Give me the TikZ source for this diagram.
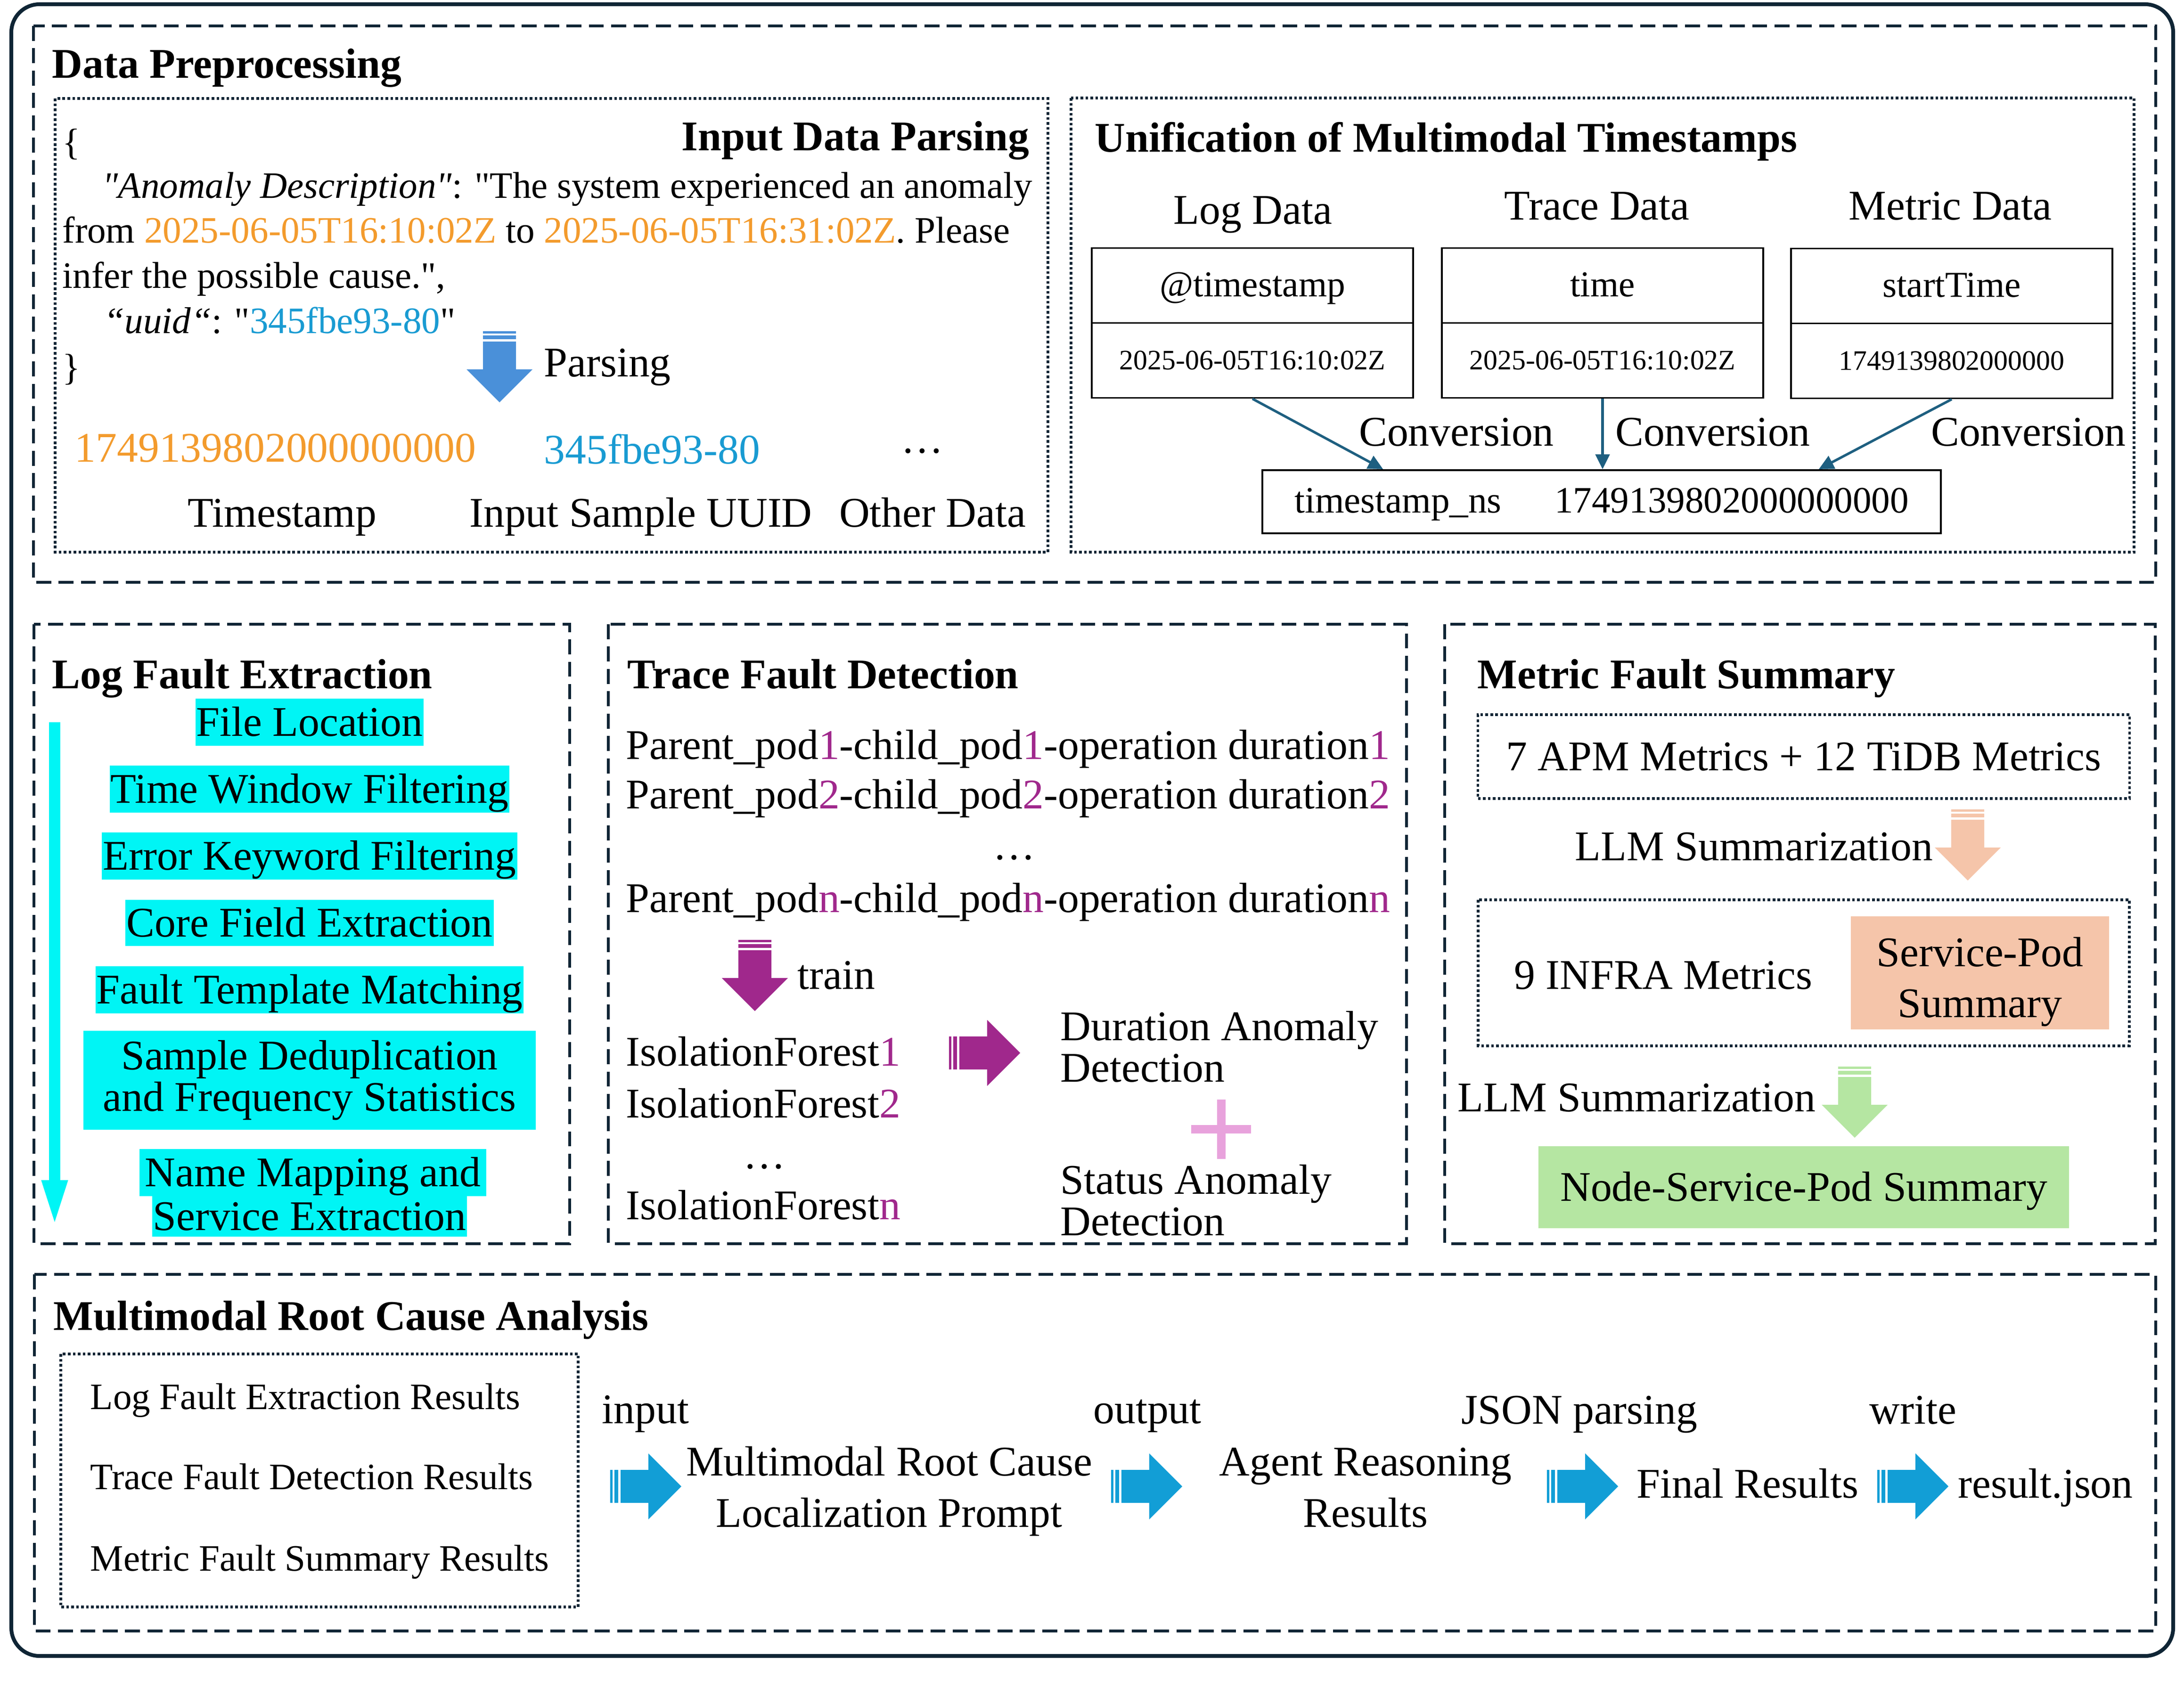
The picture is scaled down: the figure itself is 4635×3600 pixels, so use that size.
\documentclass[tikz,border=0pt]{standalone}
\usepackage{fontspec}
\setmainfont{Liberation Serif}[Ligatures=TeXOff]
\usepackage{xcolor}
\usetikzlibrary{arrows.meta}

\definecolor{frameblue}{RGB}{15,37,53}
\definecolor{convblue}{RGB}{30,95,128}
\definecolor{tsorange}{RGB}{243,155,45}
\definecolor{idblue}{RGB}{25,155,210}
\definecolor{parsblue}{RGB}{74,144,217}
\definecolor{trpurple}{RGB}{160,40,140}
\definecolor{pluspink}{RGB}{232,162,220}
\definecolor{loghl}{RGB}{0,245,245}
\definecolor{peach}{RGB}{245,197,170}
\definecolor{leafgreen}{RGB}{181,230,162}
\definecolor{flowblue}{RGB}{18,158,214}

\tikzset{
  pics/fatarrow/.style={code={
    \fill[#1] (0,-35) rectangle (5,35);
    \fill[#1] (9,-35) rectangle (17,35);
    \fill[#1] (22,-35) -- (81,-35) -- (81,-70) -- (151,0) -- (81,70) -- (81,35) -- (22,35) -- cycle;
  }}
}

\begin{document}
\begin{tikzpicture}[x=0.01cm,y=-0.01cm,
lbl/.style={font=\fontsize{25.5pt}{24.5pt}\selectfont, inner sep=0pt, text height=20pt, text depth=3.5pt},
ttl/.style={lbl, font=\fontsize{25.5pt}{24.5pt}\selectfont\bfseries},
jsn/.style={font=\fontsize{22.5pt}{27pt}\selectfont, inner sep=0pt, text height=17.6pt, text depth=3.1pt},
multi/.style={font=\fontsize{25.5pt}{25pt}\selectfont, inner sep=0pt},
cell/.style={draw, line width=1.1pt, minimum width=6.82cm, minimum height=1.59cm, inner sep=0pt},
cellk/.style={cell, font=\fontsize{22pt}{26pt}\selectfont, text height=16.5pt, text depth=3pt},
cellv/.style={cell, font=\fontsize{17pt}{20pt}\selectfont, text height=13.2pt, text depth=2.3pt},
hl/.style={lbl, fill=loghl},
frame/.style={draw=frameblue, line width=1.7pt, dash pattern=on 9pt off 4.5pt},
dotbox/.style={draw=frameblue, line width=1.5pt, dash pattern=on 1.6pt off 1.4pt},
conv/.style={convblue, line width=1.5pt, -{Triangle[length=9pt,width=8.5pt]}},
]

\useasboundingbox (0,0) rectangle (4635,3600);
%\draw[help lines,yellow,thin] (0,0) grid[step=100] (4635,3600);

\draw[frameblue, line width=2.3pt, rounded corners=17pt] (24,9) rectangle (4612,3515);

% Data Preprocessing
\draw[frame] (71,55) rectangle (4575,1236);
\node  [ttl, anchor=west] (dp) at (110,136){Data Preprocessing};

\draw[dotbox] (117,209) rectangle (2224,1172);
\node  [ttl, anchor=east] (idp) at (2185,290){Input Data Parsing};
\node  [jsn, anchor=west] (jb1) at (132,303){\{};
\node  [jsn, anchor=west] (jl1) at (217,395){\textit{"Anomaly Description"}: "The system experienced an anomaly};
\node  [jsn, anchor=west] (jl2) at (132,490){from \textcolor{tsorange}{2025-06-05T16:10:02Z} to \textcolor{tsorange}{2025-06-05T16:31:02Z}. Please};
\node  [jsn, anchor=west] (jl3) at (132,586){infer the possible cause.",};
\node  [jsn, anchor=west] (jl4) at (220,682){\textit{“uuid“}: "\textcolor{idblue}{345fbe93-80}"};
\node  [jsn, anchor=west] (jb2) at (132,781){\}};
\pic[rotate=-90] at (1060,703) {fatarrow=parsblue};
\node  [lbl, anchor=west] (parsing) at (1154,770){Parsing};
\node  [lbl, anchor=west] (tsval) at (158,951){\textcolor{tsorange}{1749139802000000000}};
\node  [lbl, anchor=west] (idval) at (1154,955){\textcolor{idblue}{345fbe93-80}};
\node  [lbl] (otherval) at (1957,932){…};
\node  [lbl] (tslbl) at (599,1089){Timestamp};
\node  [lbl] (idlbl) at (1360,1089){Input Sample UUID};
\node  [lbl] (otherlbl) at (1979,1089){Other Data};

\draw[dotbox] (2273,208) rectangle (4529,1172);
\node  [ttl, anchor=west] (umt) at (2323,293){Unification of Multimodal Timestamps};
\node  [lbl] (logh) at (2659,446){Log Data};
\node  [lbl] (traceh) at (3389,437){Trace Data};
\node  [lbl] (meth) at (4139,437){Metric Data};

\node  [cellk] (logkey) at (2658,606){@timestamp};
\node  [cellv] (logval) at (2658,765){2025-06-05T16:10:02Z};
\node  [cellk] (tracekey) at (3401,606){time};
\node  [cellv] (traceval) at (3401,765){2025-06-05T16:10:02Z};
\node  [cellk] (metkey) at (4142,607){startTime};
\node  [cellv] (metval) at (4142,766){1749139802000000};

\node  [draw, line width=1.1pt, minimum width=14.39cm, minimum height=1.34cm, font=\fontsize{22.5pt}{27pt}\selectfont, text height=16.5pt, text depth=3pt] (tsns) at (3399,1065){timestamp\_ns\hspace{32pt}1749139802000000000};

\draw[conv] (logval.south) -- ([xshift=2.58cm]tsns.north west);
\draw[conv] (traceval.south) -- (traceval.south |- tsns.north);
\draw[conv] (metval.south) -- ([xshift=11.82cm]tsns.north west);
\node  [lbl] (conv1) at (3091,917){Conversion};
\node  [lbl] (conv2) at (3635,917){Conversion};
\node  [lbl] (conv3) at (4305,917){Conversion};

% Log Fault Extraction
\draw[frame] (72,1325) rectangle (1209,2640);
\node  [ttl, anchor=west] (lfe) at (110,1432){Log Fault Extraction};
\coordinate (lfetop) at (116,1533);
\coordinate (lfebot) at (116,2607);
\draw[loghl, line width=6.8pt, -{Triangle[length=29pt,width=13.7pt]}] (lfetop) -- (lfebot);

\node  [hl, minimum width=4.84cm, minimum height=1cm] (fileloc) at (657,1533){File Location};
\node  [hl, minimum width=8.48cm, minimum height=1cm] (timewin) at (657,1675){Time Window Filtering};
\node  [hl, minimum width=8.81cm, minimum height=0.99cm] (errkey) at (657,1817){Error Keyword Filtering};
\node  [hl, minimum width=7.82cm, minimum height=0.98cm] (corefld) at (657,1959){Core Field Extraction};
\node  [hl, minimum width=9.08cm, minimum height=0.99cm] (tplmatch) at (657,2101){Fault Template Matching};
\node  [multi, fill=loghl, align=center, minimum width=9.59cm, minimum height=2.09cm] (dedup) at (657,2293){Sample Deduplication\\and Frequency Statistics};
\node  [hl, minimum width=7.36cm, minimum height=0.99cm] (namemap) at (664,2489){Name Mapping and};
\node  [hl, minimum width=6.68cm, minimum height=0.86cm] (svcext) at (657,2582){Service Extraction};

% Trace Fault Detection
\draw[frame] (1291,1325) rectangle (2985,2640);
\node  [ttl, anchor=west] (tfd) at (1331,1432){Trace Fault Detection};
\node  [lbl, anchor=west] (tr1) at (1328,1582){Parent\_pod\textcolor{trpurple}{1}-child\_pod\textcolor{trpurple}{1}-operation duration\textcolor{trpurple}{1}};
\node  [lbl, anchor=west] (tr2) at (1328,1687){Parent\_pod\textcolor{trpurple}{2}-child\_pod\textcolor{trpurple}{2}-operation duration\textcolor{trpurple}{2}};
\node  [lbl] (trdots) at (2152,1795){…};
\node  [lbl, anchor=west] (trn) at (1328,1907){Parent\_pod\textcolor{trpurple}{n}-child\_pod\textcolor{trpurple}{n}-operation duration\textcolor{trpurple}{n}};
\pic[rotate=-90] at (1602,1995) {fatarrow=trpurple};
\node  [lbl, anchor=west] (train) at (1692,2070){train};
\node  [lbl, anchor=west] (if1) at (1328,2233){IsolationForest\textcolor{trpurple}{1}};
\node  [lbl, anchor=west] (if2) at (1328,2343){IsolationForest\textcolor{trpurple}{2}};
\node  [lbl] (ifdots) at (1622,2451){…};
\node  [lbl, anchor=west] (ifn) at (1328,2559){IsolationForest\textcolor{trpurple}{n}};
\pic at (2014,2235) {fatarrow=trpurple};
\node  [multi, anchor=west, align=left] (durdet) at (2250,2222){Duration Anomaly\\Detection};
\draw[pluspink, line width=5.1pt] (2528,2397) -- (2655,2397) (2592,2334) -- (2592,2460);
\node  [multi, anchor=west, align=left] (statdet) at (2250,2548){Status Anomaly\\Detection};

% Metric Fault Summary
\draw[frame] (3066,1325) rectangle (4574,2640);
\node  [ttl, anchor=west] (mfs) at (3135,1432){Metric Fault Summary};
\node  [lbl, dotbox, minimum width=13.82cm, minimum height=1.78cm] (apm) at (3828,1606){7 APM Metrics + 12 TiDB Metrics};
\pic[rotate=-90] at (4176,1718) {fatarrow=peach};
\node  [lbl, anchor=west] (llm1) at (3342,1797){LLM Summarization};
\draw[dotbox] (3137,1910) rectangle (4519,2220);
\node  [lbl] (infra) at (3530,2070){9 INFRA Metrics};
\node  [multi, fill=peach, align=center, minimum width=5.47cm, minimum height=2.4cm, font=\fontsize{25.5pt}{30.5pt}\selectfont] (svcpod) at (4202,2065){\rule{0pt}{28.5pt}Service-Pod\\Summary};
\pic[rotate=-90] at (3936,2264) {fatarrow=leafgreen};
\node  [lbl, anchor=west] (llm2) at (3093,2330){LLM Summarization};
\node  [lbl, fill=leafgreen, minimum width=11.26cm, minimum height=1.74cm] (nsp) at (3828,2520){Node-Service-Pod Summary};

% Multimodal Root Cause Analysis
\draw[frame] (73,2705) rectangle (4575,3462);
\node  [ttl, anchor=west] (mrca) at (113,2794){Multimodal Root Cause Analysis};
\draw[dotbox] (129,2874) rectangle (1227,3411);
\node  [jsn, anchor=west] (logres) at (191,2966){Log Fault Extraction Results};
\node  [jsn, anchor=west] (traceres) at (191,3136){Trace Fault Detection Results};
\node  [jsn, anchor=west] (metres) at (191,3309){Metric Fault Summary Results};

\node  [lbl] (input) at (1370,2992){input};
\pic at (1295,3155) {fatarrow=flowblue};
\node  [multi, align=center, font=\fontsize{25.5pt}{31pt}\selectfont] (prompt) at (1887,3165){Multimodal Root Cause\\Localization Prompt};
\node  [lbl] (output) at (2435,2992){output};
\pic at (2358,3155) {fatarrow=flowblue};
\node  [multi, align=center, font=\fontsize{25.5pt}{31pt}\selectfont] (agent) at (2898,3158){Agent Reasoning\\Results};
\node  [lbl] (jsonp) at (3352,2993){JSON parsing};
\pic at (3283,3155) {fatarrow=flowblue};
\node  [lbl] (final) at (3709,3150){Final Results};
\node  [lbl] (write) at (4060,2993){write};
\pic at (3984,3155) {fatarrow=flowblue};
\node  [lbl] (resjson) at (4341,3150){result.json};
\end{tikzpicture}
\end{document}
